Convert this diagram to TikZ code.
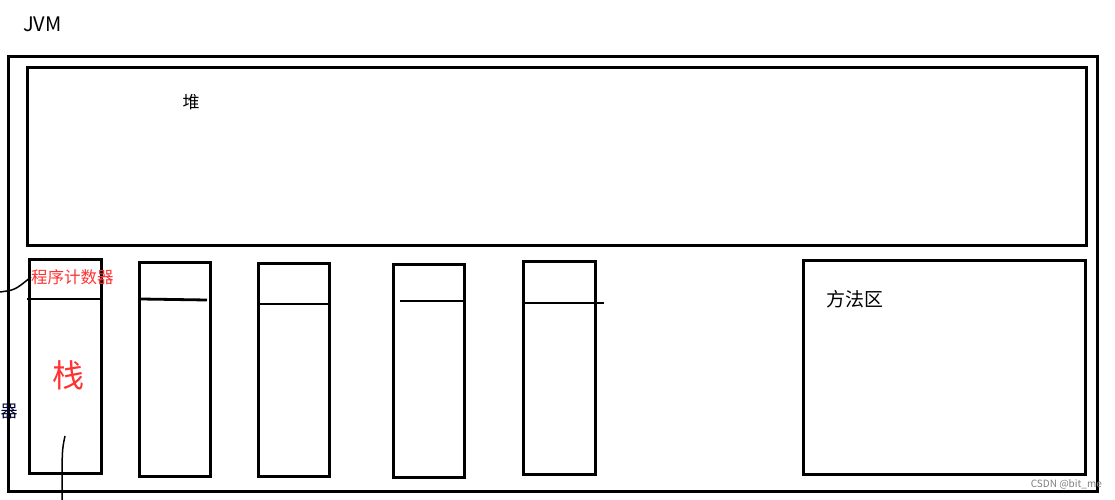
\documentclass[tikz,border=0pt]{standalone}
\usepackage{fontspec}
\setmainfont{Noto Sans CJK SC}
\begin{document}
\begin{tikzpicture}[x=1pt,y=-1pt,
  box/.style={draw=black,line width=3pt},
  bar/.style={draw=black,line width=2.8pt},
  lbl/.style={inner sep=0pt,font=\fontsize{17}{17}\selectfont},
  redlbl/.style={inner sep=0pt,text=red!80!white}]
\useasboundingbox (0,0) rectangle (1115,500);
\fill[white] (0,0) rectangle (1115,500);
\node[lbl,anchor=west,font=\fontsize{20}{20}\selectfont] (jvm) at (23,24) {JVM};
\draw[box] (8,57) rectangle (1097,491);
\draw[box] (27,68) rectangle (1086,245);
\node[lbl] (heap) at (191,102) {堆};
% stacks
\draw[box] (29,259) rectangle (101,473);
\draw[bar] (27,299) -- (101,299);
\draw[box] (139,262) rectangle (210,476);
\draw[bar] (141,299) -- (207,300);
\draw[box] (258,263) rectangle (329,476);
\draw[bar] (258,304) -- (329,304);
\draw[box] (393,264) rectangle (464,477);
\draw[bar] (400,301) -- (464,301);
\draw[box] (523,261) rectangle (595,474);
\draw[bar] (523,303) -- (604,303);
% method area
\draw[box] (803,260) rectangle (1085,474);
\node[lbl,font=\fontsize{19}{19}\selectfont] (meth) at (855,299) {方法区};
% labels
\node[redlbl,font=\fontsize{16.5}{16.5}\selectfont,anchor=west] (pc) at (31,277) {程序计数器};
\node[redlbl,font=\fontsize{32}{32}\selectfont] (stk) at (68,375) {栈};
\node[lbl,anchor=west,text=black!80!blue] (qi) at (0.5,411) {器};
\coordinate (l1) at (0,292);
\draw[line width=1.5pt] (l1) .. controls (15,290) .. (pc.west);
\draw[line width=1.5pt] (65,436) .. controls (62,450) .. (62,500);
\node[inner sep=0pt,text=gray,font=\fontsize{10}{10}\selectfont,anchor=east] (wm) at (1102,484) {CSDN @bit\_me};
\end{tikzpicture}
\end{document}
